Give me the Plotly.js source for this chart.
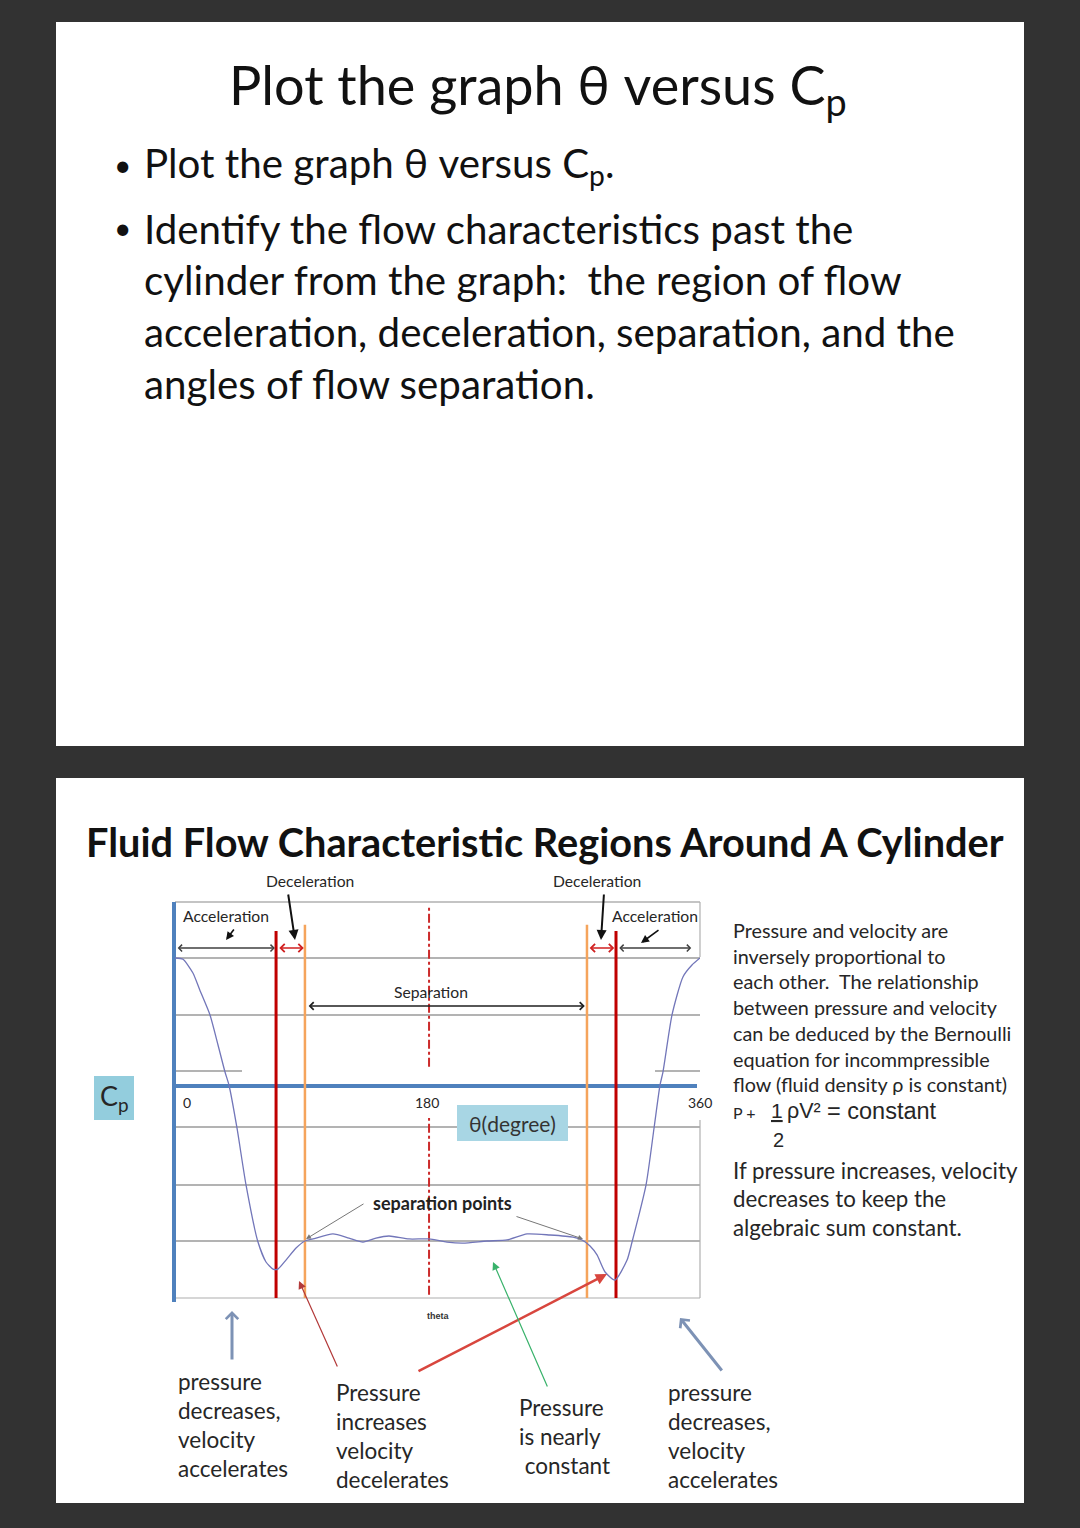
<!DOCTYPE html>
<html>
<head>
<meta charset="utf-8">
<script src="https://cdn.plot.ly/plotly-3.0.1.min.js"></script>
<style>
html,body{margin:0;padding:0;background:#333;}
#chart{width:1080px;height:1528px;}
</style>
</head>
<body>
<div id="chart"></div>
<script>
// ---------------- DATA ----------------
// Pressure coefficient around the cylinder
const theta = [0, 5.5, 12.3, 17, 24, 29.5, 34.3, 37, 42.5, 48.7, 56.9, 62.4, 67.2, 70.6, 76.1, 83.0, 89.1, 94.6, 108.3, 119.3, 128.9, 137.8, 146.7, 160.5, 174.2, 186.5, 197.5, 213.9, 227.7, 241.4, 257.1, 272.9, 279.1, 284.6, 289.4, 294.9, 301.7, 310, 313.4, 323, 328.5, 332.6, 334.6, 340.8, 348.3, 354.5, 360];
const cp    = [1.0, 0.99, 0.883, 0.75, 0.555, 0.32, 0.109, 0.008, -0.328, -0.773, -1.219, -1.375, -1.43, -1.43, -1.36, -1.266, -1.211, -1.195, -1.156, -1.188, -1.219, -1.188, -1.172, -1.195, -1.195, -1.219, -1.227, -1.211, -1.203, -1.156, -1.164, -1.18, -1.203, -1.25, -1.32, -1.453, -1.516, -1.36, -1.219, -0.773, -0.328, 0.008, 0.109, 0.555, 0.852, 0.945, 1.0];
// Region boundaries (degrees)
const accelLimits = [69.3, 302.4];     // end of acceleration (red lines)
const sepAngles = [89.1, 282.5];       // separation points (orange lines)
const rearAngle = 174.2;               // rear of cylinder (dash-dot line)
// Axis tick labels
const xTickVals = [0, 180, 360];
const xTickText = ['0', '180', '360'];
const xRange = [0, 360];
const yRange = [-1.65625, 1.4375];

// ---------------- LAYOUT HELPERS ----------------
const L = 175, R = 700, T = 902, B = 1298;
const PX = v => (v - L) / (R - L);
const PY = v => (B - v) / (B - T);
const FONT = 'Lato, "Open Sans", sans-serif';
const ARIAL = 'Arial, "Liberation Sans", sans-serif';
const DARK = '#262626';

const shapes = [];
const annotations = [];

function rectPx(x0, y0, x1, y1, fill, layer) {
  shapes.push({type: 'rect', xref: 'paper', yref: 'paper', x0: PX(x0), x1: PX(x1), y0: PY(y1), y1: PY(y0),
    fillcolor: fill, line: {width: 0}, layer: layer || 'below'});
}
function linePx(x0, y0, x1, y1, color, width, layer, dash) {
  shapes.push({type: 'line', xref: 'paper', yref: 'paper', x0: PX(x0), x1: PX(x1), y0: PY(y0), y1: PY(y1),
    line: {color: color, width: width, dash: dash || 'solid'}, layer: layer || 'below'});
}
function txt(text, x, y, size, o) {
  o = o || {};
  annotations.push({xref: 'paper', yref: 'paper', x: PX(x), y: PY(y), text: text, showarrow: false,
    xanchor: o.xanchor || 'left', yanchor: 'middle',
    font: {family: o.family || FONT, size: size, color: o.color || DARK, weight: o.weight || 'normal'}});
}
function arrowPx(x0, y0, x1, y1, color, width, head, size) {
  annotations.push({xref: 'paper', yref: 'paper', x: PX(x1), y: PY(y1), ax: x0 - x1, ay: y0 - y1,
    axref: 'pixel', ayref: 'pixel', text: '', showarrow: true, arrowcolor: color, arrowwidth: width,
    arrowhead: head, arrowsize: size || 1, standoff: 0, startstandoff: 0});
}
function arrowData(t0, t1, c, color, width) {
  annotations.push({xref: 'x', yref: 'y', x: t1, y: c, ax: t0, ay: c, axref: 'x', ayref: 'y',
    text: '', showarrow: true, arrowcolor: color, arrowwidth: width, arrowhead: 4, arrowsize: 1,
    startarrowhead: 4, startarrowsize: 1, arrowside: 'end+start', standoff: 0, startstandoff: 0});
}

// ---------------- SLIDES ----------------
rectPx(56, 22, 1024, 746, '#ffffff');
rectPx(56, 778, 1024, 1503, '#ffffff');

// top slide text
txt('Plot the graph θ versus C<sub>p</sub>', 538, 88, 54, {xanchor: 'center', color: '#111'});
txt('•', 112, 164, 30, {color: '#111'});
txt('Plot the graph θ versus C<sub>p</sub>.', 142, 165, 40.3, {color: '#111'});
txt('•', 112, 227, 30, {color: '#111'});
const bulletLines = ['Identify the flow characteristics past the',
  'cylinder from the graph:  the region of flow',
  'acceleration, deceleration, separation, and the',
  'angles of flow separation.'];
bulletLines.forEach((s, i) => txt(s, 142, 228 + i * 51.7, 40.3, {color: '#111'}));

// bottom slide title
txt('Fluid Flow Characteristic Regions Around A Cylinder', 545, 841, 39.7, {xanchor: 'center', weight: 'bold', color: '#111'});

// ---------------- CHART FRAME ----------------
const GRID = '#9a9a9a';
[958, 1015, 1127, 1185, 1241].forEach(y => linePx(175, y, 700, y, GRID, 1.5));
linePx(175, 1071, 242, 1071, GRID, 1.5);
linePx(655, 1071, 700, 1071, GRID, 1.5);
linePx(175, 902, 700, 902, '#b0b0b0', 1.5);
linePx(175, 1298, 700, 1298, '#c8c8c8', 1.5);
linePx(700, 902, 700, 957, '#b0b0b0', 1.2);
linePx(700, 1120, 700, 1298, '#b0b0b0', 1.2);
// blue axes
linePx(174, 902, 174, 1302, '#4f81bd', 4);
shapes.push({type: 'line', xref: 'paper', yref: 'y', x0: PX(176), x1: PX(697), y0: 0, y1: 0,
  line: {color: '#4f81bd', width: 4}, layer: 'below'});

// region boundary lines (data coordinates)
accelLimits.forEach(t => shapes.push({type: 'line', xref: 'x', yref: 'y', x0: t, x1: t, y0: yRange[0], y1: 1.21,
  line: {color: '#c00000', width: 3}, layer: 'below'}));
sepAngles.forEach(t => shapes.push({type: 'line', xref: 'x', yref: 'y', x0: t, x1: t, y0: yRange[0], y1: 1.26,
  line: {color: '#f5a45c', width: 2.5}, layer: 'below'}));
[[0.15, 1.41], [-1.63, -0.25]].forEach(seg => shapes.push({type: 'line', xref: 'x', yref: 'y',
  x0: rearAngle, x1: rearAngle, y0: seg[0], y1: seg[1],
  line: {color: '#cc2b2b', width: 2, dash: 'dashdot'}, layer: 'below'}));

// label boxes
rectPx(94, 1076, 134, 1120, '#93cddd');
rectPx(457, 1105, 568, 1141, '#a8d6e4');
txt('C<sub>p</sub>', 114, 1097, 27, {xanchor: 'center'});
txt('θ(degree)', 512, 1123, 21, {xanchor: 'center', color: '#333'});

// tick labels
xTickVals.forEach((v, i) => annotations.push({xref: 'x', yref: 'y', x: v, y: 0, yshift: -16,
  xshift: i === 0 ? 6 : (i === 1 ? -11 : 0),
  text: xTickText[i], showarrow: false, xanchor: i === 0 ? 'left' : 'center', yanchor: 'middle',
  font: {family: FONT, size: 14, color: DARK}}));

// region arrows
arrowData(0.8, accelLimits[0] - 0.8, 1.078, '#404040', 1.3);
arrowData(accelLimits[0] + 1.2, sepAngles[0] - 0.8, 1.078, '#d02020', 1.6);
arrowData(sepAngles[1] + 0.8, accelLimits[1] - 1.2, 1.078, '#d02020', 1.6);
arrowData(accelLimits[1] + 1.2, 354, 1.078, '#404040', 1.3);
arrowData(sepAngles[0] + 1.5, sepAngles[1] - 1.5, 0.625, '#202020', 1.5);

// small labels in chart
txt('Deceleration', 310, 881, 15.7, {xanchor: 'center'});
txt('Deceleration', 597, 881, 15.7, {xanchor: 'center'});
txt('Acceleration', 226, 916, 15.7, {xanchor: 'center'});
txt('Acceleration', 655, 916, 15.7, {xanchor: 'center'});
txt('Separation', 431, 992, 15.7, {xanchor: 'center'});
txt('separation points', 442, 1203, 18, {xanchor: 'center', weight: 'bold', color: '#222'});
txt('theta', 438, 1316, 9, {xanchor: 'center', weight: 'bold', family: ARIAL, color: '#333'});

arrowPx(288, 893, 295, 940, '#111', 2, 2, 1);
arrowPx(604, 893, 601, 940, '#111', 2, 2, 1);
arrowPx(235, 928, 226, 940, '#111', 1.6, 2, 1);
arrowPx(660, 929, 641, 943, '#111', 1.6, 2, 1);
arrowPx(365, 1203, 306, 1239, '#777', 1, 2, 1);
arrowPx(515, 1216, 583, 1239, '#777', 1, 2, 1);

// bottom arrows
arrowPx(232, 1361, 232, 1311, '#7d92b5', 3, 4, 0.8);
arrowPx(338, 1368, 299, 1281, '#b33a3a', 1.2, 2, 1.3);
arrowPx(417, 1372, 607, 1274, '#d8463e', 2.5, 2, 0.9);
arrowPx(548, 1388, 493, 1262, '#39b26b', 1.2, 2, 1.3);
arrowPx(723, 1372, 680, 1318, '#7d92b5', 3, 4, 0.8);

// bottom texts
const BT = 22.5;
['pressure', 'decreases,', 'velocity', 'accelerates'].forEach((s, i) => txt(s, 176, 1381 + i * 29.2, BT));
['Pressure', 'increases', 'velocity', 'decelerates'].forEach((s, i) => txt(s, 334, 1392 + i * 29.2, BT));
['Pressure', 'is nearly', ' constant'].forEach((s, i) => txt(s, 517, 1407 + i * 29.2, BT));
['pressure', 'decreases,', 'velocity', 'accelerates'].forEach((s, i) => txt(s, 666, 1392 + i * 29.2, BT));

// right explanatory text
['Pressure and velocity are', 'inversely proportional to', 'each other.  The relationship',
 'between pressure and velocity', 'can be deduced by the Bernoulli', 'equation for incommpressible',
 'flow (fluid density ρ is constant)'].forEach((s, i) => txt(s, 731, 930 + i * 25.7, 19.8));
txt('P +', 731, 1112, 16);
txt('<u>1</u>', 769, 1110, 21, {family: ARIAL});
txt('ρV²', 785, 1111, 21.5, {family: ARIAL});
txt('= constant', 825, 1111, 23.5, {family: ARIAL});
txt('2', 771, 1140, 20, {family: ARIAL});
['If pressure increases, velocity', 'decreases to keep the', 'algebraic sum constant.']
  .forEach((s, i) => txt(s, 731, 1170 + i * 28.5, 22.3));

// ---------------- TRACE ----------------
const traces = [{
  x: theta, y: cp, type: 'scatter', mode: 'lines',
  line: {color: '#7276b9', width: 1.3, shape: 'spline', smoothing: 0.6},
  hoverinfo: 'x+y', showlegend: false
}];

const layout = {
  width: 1080, height: 1528,
  margin: {l: L, r: 1080 - R, t: T, b: 1528 - B, pad: 0},
  paper_bgcolor: '#323232', plot_bgcolor: 'rgba(0,0,0,0)',
  xaxis: {range: xRange, showgrid: false, zeroline: false, showticklabels: false, showline: false, ticks: '', fixedrange: true},
  yaxis: {range: yRange, showgrid: false, zeroline: false, showticklabels: false, showline: false, ticks: '', fixedrange: true},
  shapes: shapes, annotations: annotations, showlegend: false
};

Plotly.newPlot('chart', traces, layout, {displayModeBar: false, staticPlot: true});
</script>
</body>
</html>
